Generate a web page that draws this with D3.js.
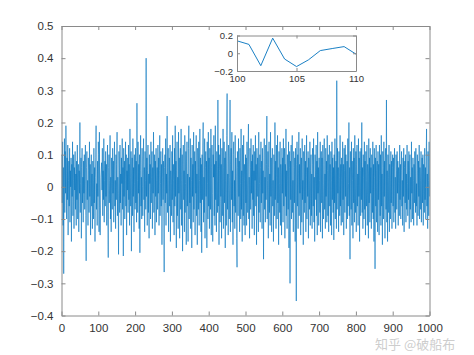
<!DOCTYPE html>
<html><head><meta charset="utf-8">
<script src="https://cdn.jsdelivr.net/npm/d3@7"></script>
<style>body{margin:0;background:#fff}svg{display:block}text{font-family:Arial,"Liberation Sans",sans-serif}</style>
</head><body><svg id="c" width="474" height="355"></svg>
<script>
const values = [
0.10,-0.05,0.14,-0.12,0.06,-0.27,0.03,0.15,-0.08,0.11,-0.02,0.19,0.04,-0.10,0.09,-0.04,0.13,-0.15,0.02,0.08,
-0.06,0.12,-0.11,0.05,0.00,0.09,-0.17,0.07,-0.03,0.14,-0.09,0.02,0.10,-0.13,0.06,-0.01,0.11,-0.07,0.04,-0.12,
0.08,-0.04,0.13,-0.10,0.03,0.07,-0.14,0.05,-0.02,0.20,-0.08,0.01,0.09,-0.16,0.06,0.12,-0.05,0.03,-0.11,0.08,
-0.02,0.10,-0.07,0.04,0.13,-0.09,-0.23,0.06,0.11,-0.04,0.02,-0.12,0.09,0.05,-0.08,0.14,-0.03,0.07,-0.15,0.01,
0.10,-0.06,0.04,-0.13,0.08,0.02,-0.10,0.12,-0.05,0.06,-0.17,0.03,0.09,0.19,-0.07,0.01,-0.12,0.08,-0.03,0.14,
0.10,-0.14,0.17,-0.065,-0.15,-0.075,0.03,0.053,0.075,-0.01,0.12,-0.09,0.05,-0.04,0.15,-0.11,0.02,0.08,-0.06,0.11,
-0.03,0.07,-0.12,0.04,0.13,-0.08,-0.22,0.06,0.10,-0.05,0.02,0.16,-0.10,0.03,-0.14,0.09,0.01,-0.07,0.12,-0.02,
0.08,-0.11,0.05,0.14,-0.06,0.02,-0.13,0.10,-0.04,0.07,0.17,-0.09,0.03,-0.02,-0.21,0.11,0.05,-0.08,0.13,-0.05,
0.04,-0.12,0.09,0.01,0.15,-0.07,0.06,-0.215,0.12,-0.03,0.08,-0.10,0.02,0.14,-0.06,0.10,-0.15,0.05,-0.01,0.09,
-0.08,0.13,-0.04,0.07,-0.12,0.18,0.03,-0.06,0.11,-0.20,0.04,0.09,-0.09,0.15,-0.03,0.06,-0.14,0.10,0.01,-0.07,
0.12,-0.05,0.08,-0.11,0.26,0.02,-0.08,0.14,-0.02,0.07,-0.13,0.10,-0.205,0.05,0.16,-0.06,0.03,-0.10,0.12,0.00,
-0.09,0.08,0.15,-0.04,0.06,-0.14,0.11,0.02,-0.07,0.40,-0.03,0.09,-0.12,0.05,0.13,-0.08,0.04,-0.16,0.10,0.01,
0.07,-0.10,0.14,-0.05,0.03,0.11,-0.13,0.06,-0.02,0.17,-0.08,0.04,0.10,-0.15,0.08,-0.03,0.12,-0.11,0.02,0.06,
-0.07,0.13,-0.02,0.09,-0.12,0.05,0.16,-0.09,0.01,0.11,-0.06,0.07,-0.18,0.03,0.12,-0.04,0.08,-0.10,-0.265,0.06,
0.10,-0.05,0.15,-0.12,0.04,-0.02,0.22,-0.08,0.06,0.12,-0.14,0.02,0.09,-0.06,0.13,-0.17,0.05,0.01,-0.09,0.11,
-0.04,0.16,-0.11,0.07,0.02,-0.15,0.12,-0.06,0.19,-0.03,0.08,-0.19,0.05,0.14,-0.09,0.03,-0.13,0.17,-0.02,0.09,
-0.16,0.06,0.12,-0.07,0.18,-0.12,0.02,0.10,-0.20,0.07,0.13,-0.04,0.05,-0.14,0.16,-0.08,0.01,0.11,-0.18,0.08,
0.14,-0.06,0.04,-0.17,0.12,0.19,-0.10,0.03,-0.05,0.15,-0.13,0.09,0.02,-0.19,0.13,-0.03,0.07,-0.11,0.17,-0.07,
0.05,0.11,-0.15,0.08,-0.02,0.16,-0.09,0.04,-0.18,0.12,0.06,-0.07,0.14,-0.12,0.02,0.18,-0.05,0.09,-0.14,0.07,
-0.205,0.10,-0.04,0.13,0.20,-0.11,0.03,-0.08,0.15,-0.16,0.06,0.11,-0.03,0.08,-0.19,0.14,0.01,-0.10,0.17,-0.06,
0.09,-0.13,0.12,0.04,-0.07,0.18,-0.15,0.06,0.13,-0.02,-0.17,0.10,0.03,0.16,-0.09,0.07,-0.12,0.19,-0.04,0.08,
-0.14,0.11,0.02,-0.08,0.27,-0.06,0.13,-0.18,0.05,0.10,-0.11,0.15,-0.03,0.07,-0.16,0.12,0.04,-0.09,0.18,-0.13,
0.06,0.14,-0.05,0.09,-0.19,0.11,0.02,-0.12,0.16,0.29,-0.07,0.04,-0.15,0.13,0.08,-0.10,0.03,0.27,-0.14,0.07,
0.12,-0.04,0.17,-0.11,0.05,-0.18,0.10,0.14,-0.06,0.02,-0.13,0.16,-0.08,0.09,0.04,-0.16,-0.25,0.11,0.06,-0.09,
0.15,-0.03,0.08,-0.14,0.12,0.01,-0.10,0.18,-0.07,0.05,-0.17,0.13,0.03,-0.09,0.16,-0.12,0.07,0.02,-0.15,0.10,
-0.05,0.09,-0.12,0.14,0.04,-0.08,0.11,0.195,-0.10,0.03,-0.16,0.12,0.06,-0.07,0.15,-0.02,0.08,-0.13,0.10,-0.04,
0.13,-0.09,0.05,-0.15,0.11,0.02,0.16,-0.06,0.07,-0.18,0.12,-0.03,0.09,0.04,-0.14,0.17,-0.08,0.01,0.10,-0.11,
0.06,0.14,-0.05,0.08,-0.13,0.12,-0.02,0.05,-0.225,0.09,0.15,-0.07,0.03,-0.11,0.13,-0.04,0.07,0.22,-0.10,0.02,
0.11,-0.16,0.06,0.14,-0.08,0.04,-0.12,0.17,-0.03,0.09,-0.14,0.05,0.12,-0.06,0.02,-0.17,0.10,0.07,-0.09,0.20,
-0.04,0.08,-0.13,0.13,0.03,-0.10,0.16,-0.05,0.06,-0.18,0.11,0.01,-0.08,0.14,-0.12,0.07,0.04,-0.15,0.12,-0.02,
0.09,-0.11,0.15,-0.06,0.03,0.12,-0.16,0.07,-0.03,0.18,-0.09,0.05,-0.13,0.10,0.02,-0.07,0.14,-0.19,0.06,0.11,
-0.30,0.08,-0.04,0.13,-0.10,0.05,0.16,-0.08,0.02,-0.14,0.11,0.06,-0.05,0.09,-0.17,0.12,0.03,-0.355,0.07,0.14,
-0.06,0.10,-0.13,0.04,0.17,-0.09,0.07,-0.02,0.12,-0.15,0.05,0.09,-0.11,0.15,-0.04,0.02,-0.18,0.11,0.06,-0.08,
0.13,-0.05,0.08,-0.14,0.03,0.16,-0.10,0.06,-0.03,0.11,-0.16,0.09,0.02,-0.07,0.14,-0.12,0.05,0.10,-0.09,0.04,
-0.13,0.12,0.07,-0.06,0.15,-0.11,0.03,-0.17,0.10,0.05,-0.04,0.13,-0.09,0.08,-0.15,0.17,-0.02,0.06,-0.12,0.09,
0.02,-0.08,0.14,-0.14,0.06,0.11,-0.05,0.09,-0.16,0.13,0.01,-0.10,0.07,0.15,-0.07,0.04,-0.13,0.12,-0.03,0.08,
-0.11,0.16,0.05,-0.09,0.10,-0.14,0.03,0.13,-0.06,0.07,-0.12,0.11,0.02,-0.15,0.14,-0.04,0.09,-0.08,0.06,-0.165,
0.10,-0.05,0.15,-0.10,0.04,0.08,-0.13,0.33,-0.07,0.12,-0.02,0.06,-0.14,0.11,0.03,-0.09,0.16,-0.06,0.07,-0.12,
0.09,0.02,-0.11,0.14,-0.04,0.07,-0.15,0.12,0.05,-0.08,0.13,-0.03,0.10,-0.13,0.04,0.08,-0.10,0.15,-0.06,0.01,
0.20,-0.09,0.06,-0.225,0.11,0.04,-0.07,0.14,-0.12,0.08,0.02,-0.16,0.12,-0.05,0.09,-0.11,0.16,0.03,-0.08,0.11,
-0.14,0.07,0.13,-0.06,0.04,-0.12,0.15,-0.03,0.09,-0.17,0.11,0.05,-0.09,0.12,-0.04,0.20,-0.08,0.06,-0.13,0.10,
0.03,-0.10,0.14,-0.07,0.08,-0.15,0.11,0.02,-0.06,0.13,-0.12,0.07,0.04,-0.16,0.15,-0.05,0.09,-0.11,0.12,-0.02,
0.06,-0.13,0.10,0.04,-0.08,0.14,-0.10,0.07,-0.17,0.12,0.03,-0.255,0.09,-0.06,0.13,-0.11,0.05,0.08,-0.14,0.11,
-0.04,0.07,-0.15,0.13,0.02,-0.09,0.10,-0.12,0.16,-0.06,0.04,-0.18,0.11,0.06,-0.10,0.14,-0.03,0.08,-0.16,0.09,
0.12,-0.07,0.27,-0.11,0.05,-0.17,0.10,0.03,-0.08,0.13,-0.14,0.07,0.02,-0.10,0.11,-0.05,0.08,-0.13,0.06,0.10,
-0.06,0.09,-0.11,0.04,0.12,-0.08,0.03,-0.13,0.10,0.05,-0.07,0.11,-0.02,0.08,-0.12,0.06,0.01,-0.09,0.13,-0.04,
0.07,-0.10,0.05,0.11,-0.06,0.02,-0.12,0.09,-0.03,0.12,-0.14,0.06,0.08,-0.05,0.10,-0.11,0.04,-0.07,0.13,0.01,
-0.09,0.08,-0.04,0.11,-0.13,0.05,0.10,-0.07,0.03,-0.11,0.14,-0.02,0.06,-0.10,0.09,0.02,-0.12,0.07,-0.05,0.11,
0.04,-0.08,0.12,-0.06,0.01,-0.12,0.10,0.05,-0.09,0.08,-0.03,0.13,-0.10,0.06,0.02,-0.07,0.11,-0.11,0.04,0.09,
-0.05,0.10,-0.12,0.07,0.03,-0.08,0.12,-0.04,0.06,-0.10,0.09,0.18,-0.06,0.04,-0.13,0.11,0.02,-0.09,0.14,-0.03
];
const xTicks = [0,100,200,300,400,500,600,700,800,900,1000];
const yTicks = [-0.4,-0.3,-0.2,-0.1,0,0.1,0.2,0.3,0.4,0.5];
const insetRange = [100,110];
const insetXTicks = [100,105,110];
const insetYTicks = [-0.2,0,0.2];
const watermark = "知乎 @破船布";

const svg = d3.select("#c");
const lineColor = "#0072BD", axisColor = "#8a8a8a", textColor = "#333";
const data = values.map((v,i)=>({x:i+1,y:v}));

const x = d3.scaleLinear().domain([0,1000]).range([61.5,429.5]);
const y = d3.scaleLinear().domain([-0.4,0.5]).range([315.5,26]);
const fmt = d => d===0 ? "0" : d3.format(".1f")(d);
const fmtX = d => String(d);

const g = svg.append("g");
g.append("path").datum(data)
  .attr("fill","none").attr("stroke",lineColor).attr("stroke-width",0.6)
  .attr("d", d3.line().x(d=>x(d.x)).y(d=>y(d.y)));

function styleAxis(sel, fs){
  sel.select(".domain").attr("stroke",axisColor);
  sel.selectAll(".tick line").attr("stroke",axisColor);
  sel.selectAll(".tick text").attr("fill",textColor).style("font-size",fs+"px");
}
const ax = [
  g.append("g").attr("transform",`translate(0,${y(-0.4)})`).call(d3.axisBottom(x).tickValues(xTicks).tickFormat(fmtX).tickSize(-4).tickPadding(8).tickSizeOuter(0)),
  g.append("g").attr("transform",`translate(0,${y(0.5)})`).call(d3.axisTop(x).tickValues(xTicks).tickSize(-4).tickFormat("").tickSizeOuter(0)),
  g.append("g").attr("transform",`translate(${x(0)},0)`).call(d3.axisLeft(y).tickValues(yTicks).tickFormat(fmt).tickSize(-4).tickPadding(8).tickSizeOuter(0)),
  g.append("g").attr("transform",`translate(${x(1000)},0)`).call(d3.axisRight(y).tickValues(yTicks).tickFormat("").tickSize(-4).tickSizeOuter(0))
];
ax.forEach(a=>styleAxis(a,11.5));

const ix = d3.scaleLinear().domain(insetRange).range([237,356]);
const iy = d3.scaleLinear().domain([-0.2,0.2]).range([71,35.5]);
const ig = svg.append("g");
ig.append("rect").attr("x",237).attr("y",35.5).attr("width",119).attr("height",35.5).attr("fill","#fff");
const idata = data.filter(d=>d.x>=insetRange[0] && d.x<=insetRange[1]);
ig.append("path").datum(idata)
  .attr("fill","none").attr("stroke",lineColor).attr("stroke-width",0.9)
  .attr("d", d3.line().x(d=>ix(d.x)).y(d=>iy(d.y)));
const iax = [
  ig.append("g").attr("transform",`translate(0,71)`).call(d3.axisBottom(ix).tickValues(insetXTicks).tickFormat(fmtX).tickSize(-3).tickPadding(4).tickSizeOuter(0)),
  ig.append("g").attr("transform",`translate(0,35.5)`).call(d3.axisTop(ix).tickValues(insetXTicks).tickSize(-3).tickFormat("").tickSizeOuter(0)),
  ig.append("g").attr("transform",`translate(237,0)`).call(d3.axisLeft(iy).tickValues(insetYTicks).tickFormat(fmt).tickSize(-3).tickPadding(4).tickSizeOuter(0)),
  ig.append("g").attr("transform",`translate(356,0)`).call(d3.axisRight(iy).tickValues(insetYTicks).tickFormat("").tickSize(-3).tickSizeOuter(0))
];
iax.forEach(a=>styleAxis(a,9.5));

svg.append("text").attr("x",375).attr("y",349).text(watermark)
  .attr("fill","#c4c4c4").attr("fill-opacity",0.85)
  .style("font-family","'Noto Sans CJK SC',sans-serif").style("font-size","13px");
</script></body></html>
